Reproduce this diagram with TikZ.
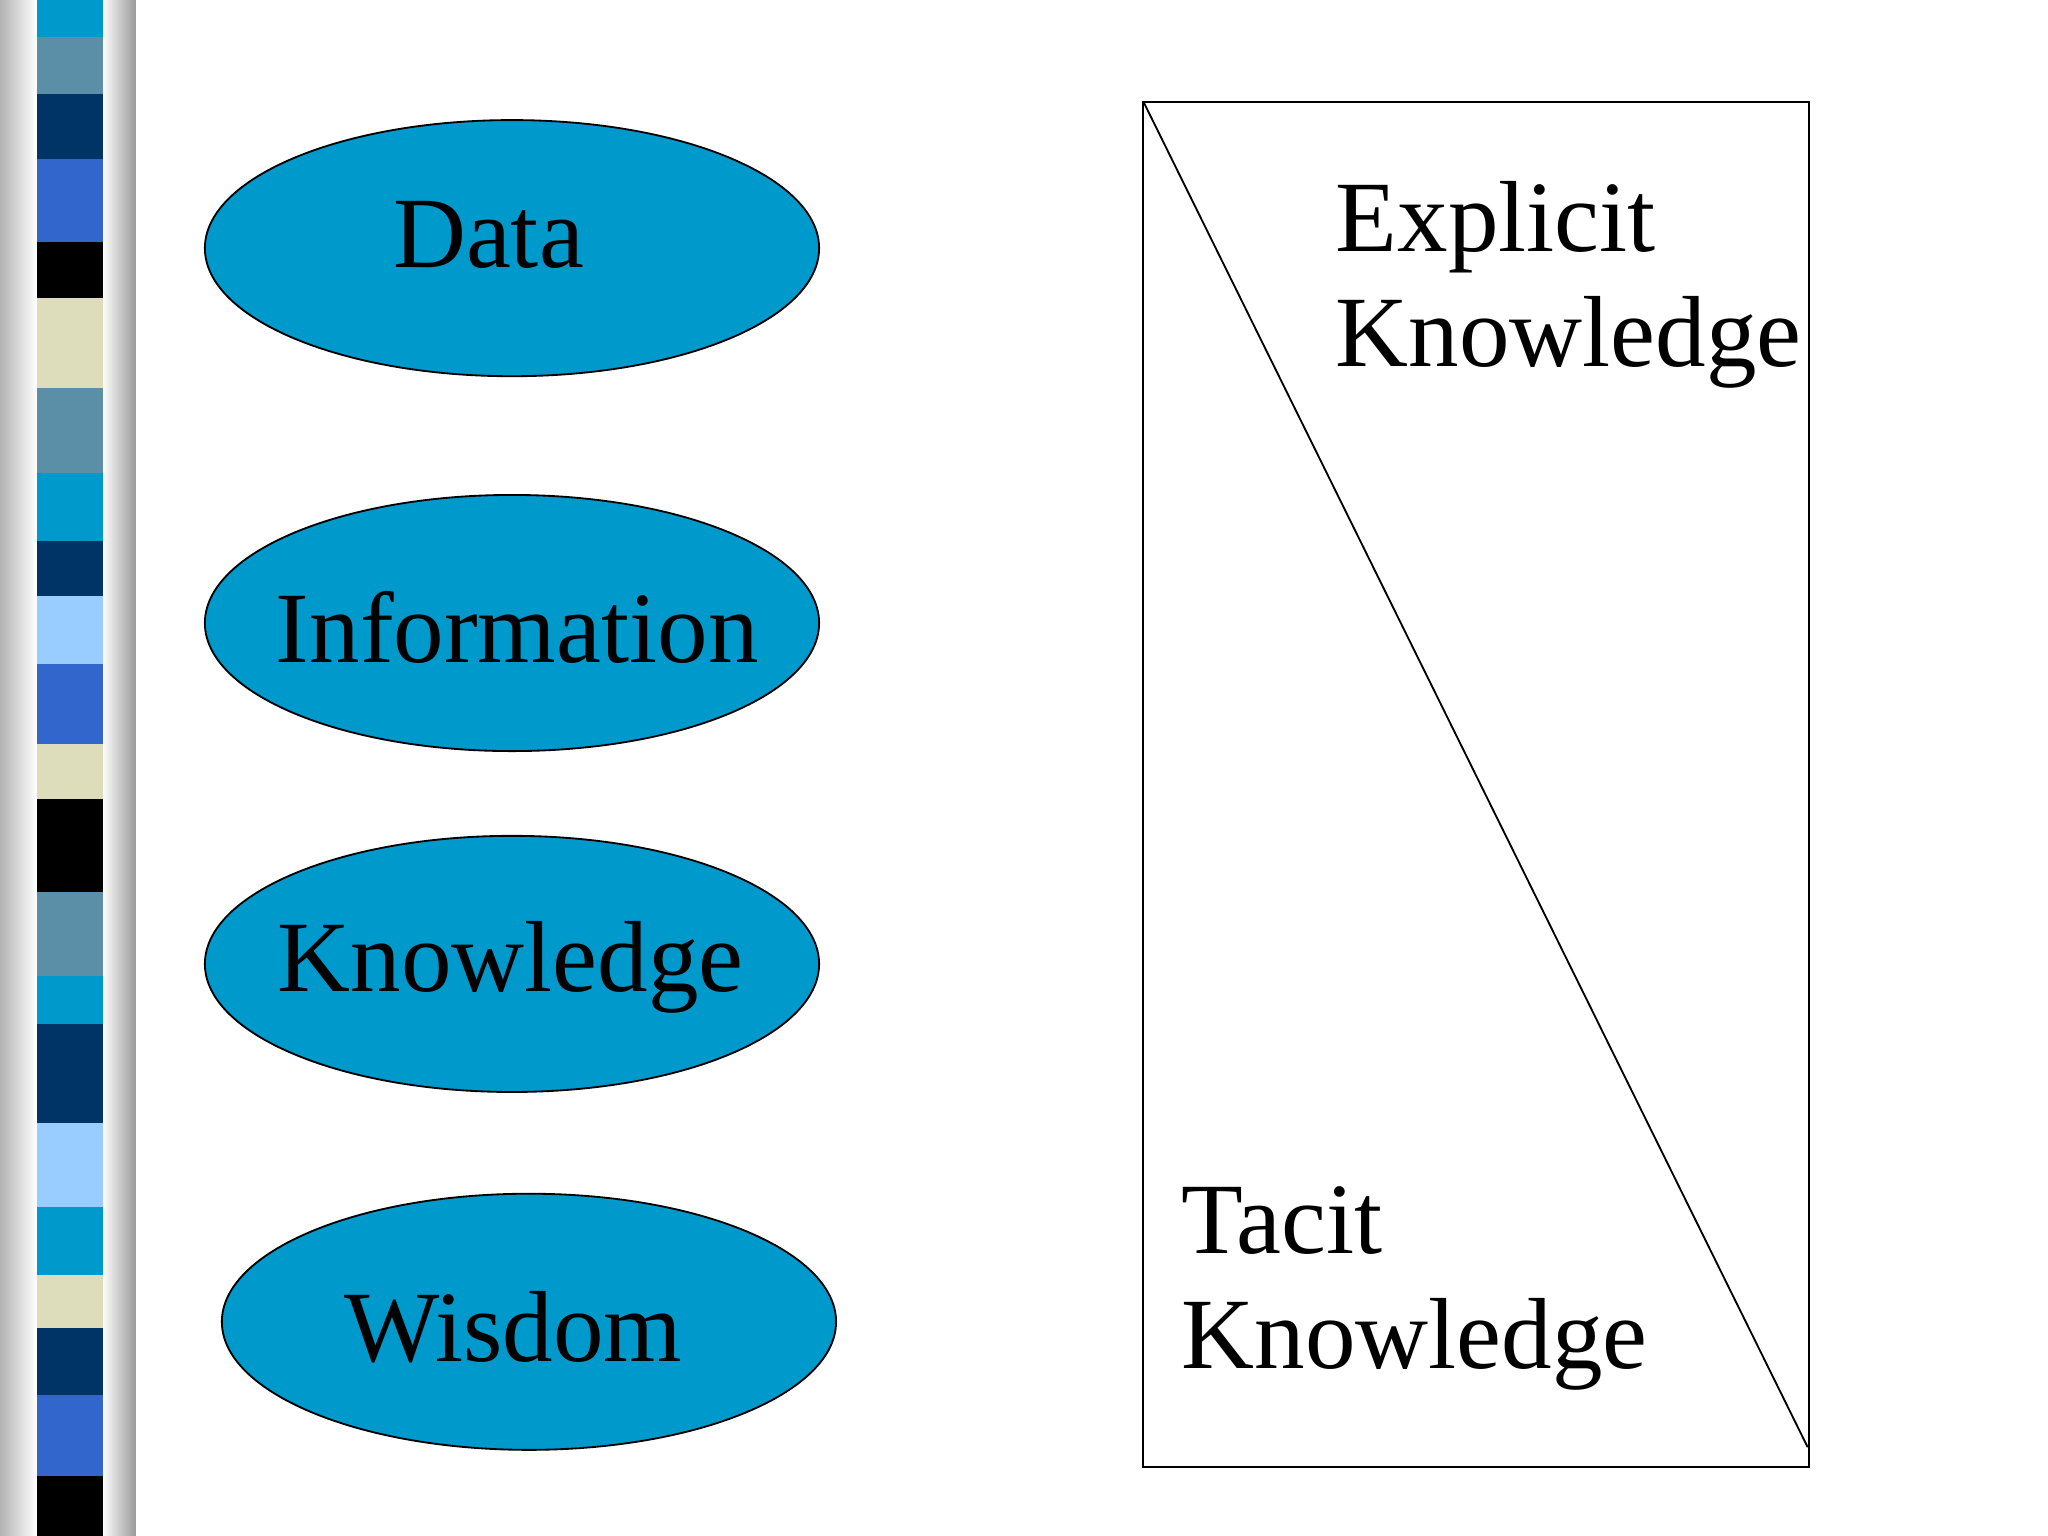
\documentclass[tikz,border=0pt]{standalone}
\usepackage{fontspec}
\setmainfont{Liberation Serif}
\usetikzlibrary{shapes.geometric}
\begin{document}
\begin{tikzpicture}[x=0.01cm,y=-0.01cm,
 ell/.style={ellipse,draw=black,fill=cyanA,minimum width=4.7cm,minimum height=1.96cm,inner sep=0pt},
 lbl/.style={font=\fontsize{22}{25}\selectfont}]
\definecolor{cyanA}{HTML}{0099CC}
\definecolor{steel}{HTML}{5B8FA8}
\definecolor{navy}{HTML}{003366}
\definecolor{royal}{HTML}{3366CC}
\definecolor{beige}{HTML}{DDDDBB}
\definecolor{lblue}{HTML}{99CCFF}
\useasboundingbox (0,0) rectangle (1568,1176);
\fill[white] (0,0) rectangle (1568,1176);
\shade[left color=gray!60,right color=white] (0,0) rectangle (28,1176);
\shade[left color=white,right color=gray!80] (78,0) rectangle (104,1176);
\foreach \a/\b/\c in {0/28/cyanA,28/72/steel,72/122/navy,122/185/royal,185/228/black,228/297/beige,297/362/steel,362/414/cyanA,414/456/navy,456/508/lblue,508/570/royal,570/612/beige,612/683/black,683/747/steel,747/784/cyanA,784/860/navy,860/924/lblue,924/976/cyanA,976/1017/beige,1017/1068/navy,1068/1130/royal,1130/1176/black}
  \fill[\c] (28,\a) rectangle (79,\b);
\node[ell] (d) at (392,190) {};
\node[lbl] at (374,180) {Data};
\node[ell] (i) at (392,477) {};
\node[lbl] at (396,480) {Information};
\node[ell] (k) at (392,738) {};
\node[lbl] at (391,741) {Knowledge};
\node[ell] (w) at (405,1012) {};
\node[lbl] at (393,1016) {Wisdom};
\draw (875,78) rectangle (1385,1123);
\coordinate (tl) at (876,79);
\coordinate (br) at (1384,1108);
\draw (tl) -- (br);
\node[lbl,anchor=north west,align=left,inner sep=0pt] (e) at (1022,138) {Explicit\\Knowledge};
\node[lbl,anchor=north west,align=left,inner sep=0pt] (t) at (904,908) {Tacit\\Knowledge};
\end{tikzpicture}
\end{document}
